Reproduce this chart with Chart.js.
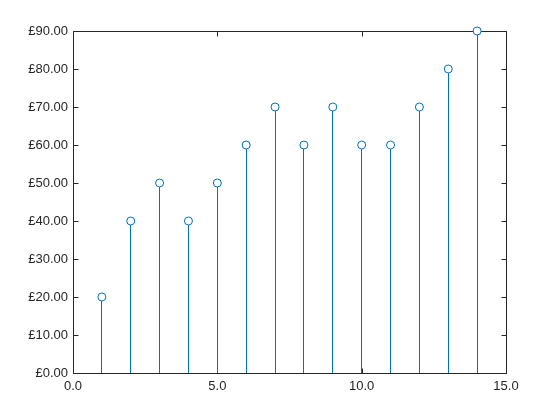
<!DOCTYPE html>
<html><head><meta charset="utf-8">
<script src="https://cdn.jsdelivr.net/npm/chart.js@4"></script>
<style>html,body{margin:0;padding:0;background:#fff}#w{width:560px;height:420px}</style>
</head><body><div id="w"><canvas id="c"></canvas></div>
<script>
const xValues = [1,2,3,4,5,6,7,8,9,10,11,12,13,14];
const yValues = [20,40,50,40,50,60,70,60,70,60,60,70,80,90];
const xTicks = [0,5,10,15];
const yTicks = [0,10,20,30,40,50,60,70,80,90];
const stemColor = '#0072BD';
const axisColor = '#262626';
const pts = xValues.map((x,i)=>({x:x,y:yValues[i]}));

const boxTicks = {
  id:'boxTicks',
  beforeDatasetsDraw(chart){
    const {ctx, chartArea:a, scales:{x,y}} = chart;
    ctx.save();
    ctx.strokeStyle = axisColor; ctx.lineWidth = 1;
    ctx.beginPath();
    const L = Math.round(a.left)+0.5, R = Math.round(a.right)+0.5, T = Math.round(a.top)+0.5, B = Math.round(a.bottom)+0.5;
    ctx.rect(L, T, R-L, B-T);
    const len = 5;
    y.ticks.forEach(t=>{ const p = Math.round(y.getPixelForValue(t.value))+0.5;
      ctx.moveTo(L,p); ctx.lineTo(L+len,p); ctx.moveTo(R,p); ctx.lineTo(R-len,p); });
    x.ticks.forEach(t=>{ const p = Math.round(x.getPixelForValue(t.value))+0.5;
      ctx.moveTo(p,B); ctx.lineTo(p,B-len); ctx.moveTo(p,T); ctx.lineTo(p,T+len); });
    ctx.stroke();
    ctx.restore();
  },
  beforeDatasetDraw(chart, args){
    if (args.index !== 0) return;
    const ctx = chart.ctx;
    ctx.save();
    ctx.strokeStyle = stemColor; ctx.lineWidth = 1;
    ctx.beginPath();
    args.meta.data.forEach(el=>{
      const px = Math.floor(el.x)+0.5;
      ctx.moveTo(px, el.base); ctx.lineTo(px, el.y);
    });
    ctx.stroke();
    ctx.restore();
    return false;
  }
};

new Chart(document.getElementById('c'), {
  data:{
    datasets:[
      {type:'bar', data:pts, backgroundColor:stemColor, borderWidth:0, barThickness:1, order:2},
      {type:'scatter', data:pts, pointStyle:'circle', pointRadius:4, pointHoverRadius:4, borderColor:stemColor, backgroundColor:'#ffffff', borderWidth:1, order:1, clip:false}
    ]
  },
  options:{
    responsive:true, maintainAspectRatio:false, animation:false,
    layout:{padding:{top:31,right:54,left:0,bottom:0}},
    plugins:{legend:{display:false}, tooltip:{enabled:false}},
    scales:{
      x:{type:'linear', min:0, max:15, offset:false,
        afterBuildTicks(s){ s.ticks = xTicks.map(v=>({value:v})); },
        afterFit(s){ s.height = 47; },
        grid:{display:false, drawTicks:false}, border:{display:false},
        ticks:{padding:6, color:axisColor, font:{family:'Liberation Sans, Arial', size:13}, callback:v=>v.toFixed(1), maxRotation:0}
      },
      y:{type:'linear', min:0, max:90,
        afterBuildTicks(s){ s.ticks = yTicks.map(v=>({value:v})); },
        afterFit(s){ s.width = 73; },
        grid:{display:false, drawTicks:false}, border:{display:false},
        ticks:{padding:5, color:axisColor, font:{family:'Liberation Sans, Arial', size:13}, callback:v=>'£'+v.toFixed(2)}
      }
    }
  },
  plugins:[boxTicks]
});
</script></body></html>
